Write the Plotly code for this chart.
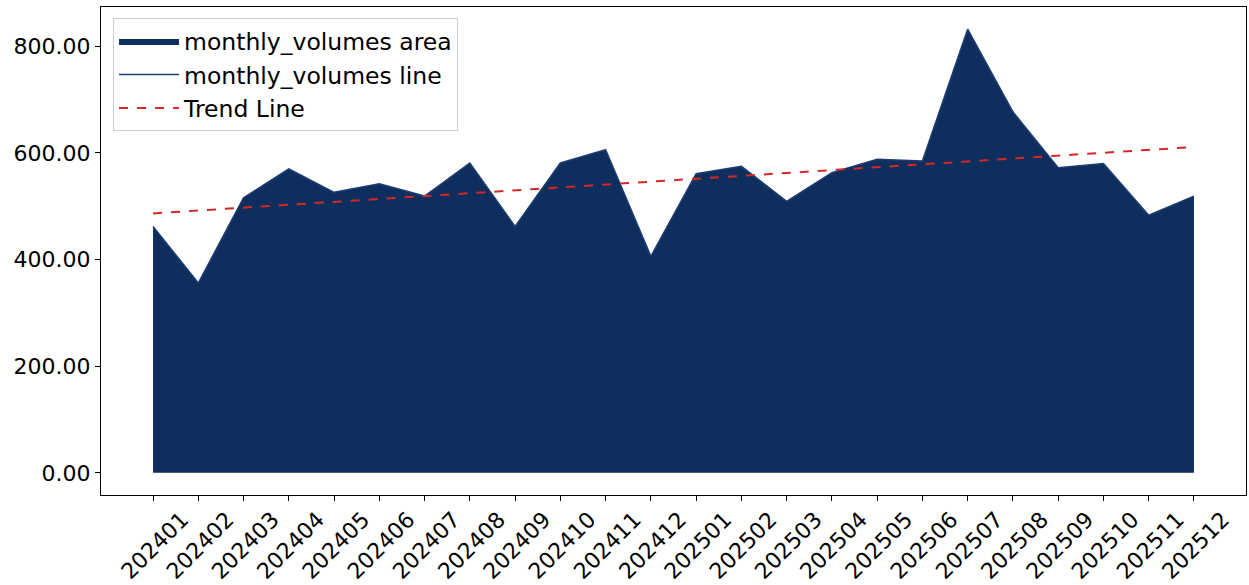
import numpy as np
import plotly.graph_objects as go

months = ["202401", "202402", "202403", "202404", "202405", "202406", "202407", "202408",
          "202409", "202410", "202411", "202412", "202501", "202502", "202503", "202504",
          "202505", "202506", "202507", "202508", "202509", "202510", "202511", "202512"]
monthly_volumes = [462, 356, 516, 570, 526, 542, 519, 581, 462, 581, 606, 406,
                   561, 575, 509, 563, 588, 585, 832, 677, 572, 580, 483, 519]
y_ticks = [0, 200, 400, 600, 800]

x_idx = np.arange(len(months))
coef = np.polyfit(x_idx, monthly_volumes, 1)
trend = np.polyval(coef, x_idx)

AREA = "#0e2e5e"
LINE = "#1f3d72"
RED = "#d62728"
FONT = "DejaVu Sans, Arial, sans-serif"
FS_LEG = 23.5
FS_TICK = 22

fig = go.Figure()
fig.add_trace(go.Scatter(x=x_idx, y=monthly_volumes, name="monthly_volumes area",
                         mode="lines", fill="tozeroy", fillcolor=AREA,
                         line=dict(width=0, color=AREA)))
fig.add_trace(go.Scatter(x=x_idx, y=monthly_volumes, name="monthly_volumes line",
                         mode="lines", line=dict(width=1.5, color=LINE)))
fig.add_trace(go.Scatter(x=x_idx, y=trend, name="Trend Line", mode="lines",
                         line=dict(width=2, color=RED, dash="dash")))

fig.update_layout(
    width=1249, height=585,
    margin=dict(l=101, r=3, t=7, b=90, autoexpand=False),
    paper_bgcolor="white", plot_bgcolor="white",
    font=dict(family=FONT, size=FS_LEG, color="black"),
    showlegend=True,
    legend=dict(x=0.0105, y=0.977, xanchor="left", yanchor="top",
                bgcolor="white", bordercolor="#cccccc", borderwidth=1,
                font=dict(size=FS_LEG), tracegroupgap=0, itemwidth=60),
)
fig.update_xaxes(
    range=[-1.15, len(months) - 1 + 1.15], automargin=False,
    tickmode="array", tickvals=list(x_idx), ticktext=months,
    tickangle=-45, ticks="outside", ticklen=5, tickcolor="black",
    showline=True, linecolor="black", linewidth=1, mirror=True,
    showgrid=False, zeroline=False, ticklabelshift=29, ticklabelstandoff=-3,
    tickfont=dict(size=FS_TICK, family=FONT),
)
fig.update_yaxes(
    range=[-41.6, 873.6], automargin=False,
    tickmode="array", tickvals=y_ticks, tickformat=".2f",
    ticks="outside", ticklen=5, tickcolor="black",
    showline=True, linecolor="black", linewidth=1, mirror=True,
    showgrid=False, zeroline=False,
    tickfont=dict(size=FS_TICK, family=FONT),
)

fig.write_html("out.html", config={"displayModeBar": False},
               post_script="document.body.style.margin='0px';document.body.style.overflow='hidden';")
